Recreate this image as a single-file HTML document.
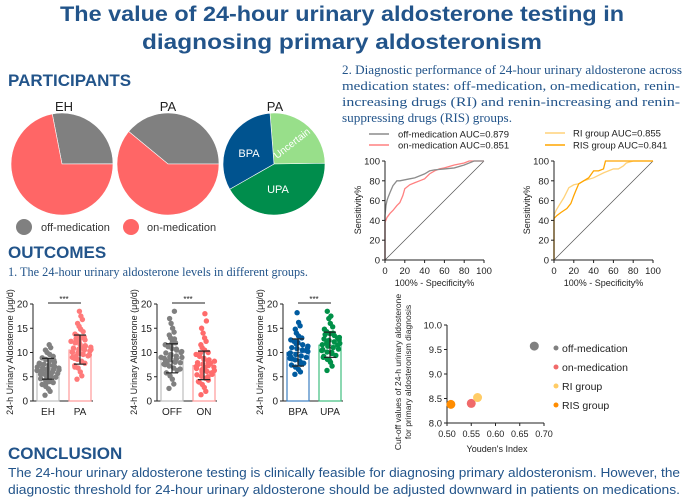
<!DOCTYPE html>
<html><head><meta charset="utf-8"><style>
html,body{margin:0;padding:0;background:#fff;}
svg{display:block;font-family:"Liberation Sans",Arial,sans-serif;}
.serif{font-family:"Liberation Serif",serif;}
</style></head><body>
<svg id="s" width="685" height="497" viewBox="0 0 685 497">
<g fill="#22548a" font-weight="bold" font-size="21" text-anchor="middle">
<text x="342" y="21" textLength="564" lengthAdjust="spacingAndGlyphs">The value of 24-hour urinary aldosterone testing in</text>
<text x="342" y="49" textLength="400" lengthAdjust="spacingAndGlyphs">diagnosing primary aldosteronism</text>
</g>
<text x="8" y="86" fill="#22548a" font-weight="bold" font-size="17">PARTICIPANTS</text>
<g font-size="13" text-anchor="middle" fill="#222">
<text x="64" y="111">EH</text><text x="168" y="111">PA</text><text x="275" y="111">PA</text>
</g>
<g id="pies"></g>
<g font-size="11" fill="#333">
<circle cx="24" cy="227" r="8" fill="#808080"/><text x="41" y="231">off-medication</text>
<circle cx="131" cy="227" r="8" fill="#ff6666"/><text x="147" y="231">on-medication</text>
</g>
<g class="serif" fill="#22548a" font-size="12.3">
<text x="342" y="74" textLength="340" lengthAdjust="spacingAndGlyphs">2. Diagnostic performance of 24-hour urinary aldosterone across</text>
<text x="342" y="90" textLength="338" lengthAdjust="spacingAndGlyphs">medication states: off-medication, on-medication, renin-</text>
<text x="342" y="106" textLength="338" lengthAdjust="spacingAndGlyphs">increasing drugs (RI) and renin-increasing and renin-</text>
<text x="342" y="122" textLength="170" lengthAdjust="spacingAndGlyphs">suppressing drugs (RIS) groups.</text>
</g>
<text x="8" y="258" fill="#22548a" font-weight="bold" font-size="17">OUTCOMES</text>
<text class="serif" x="8" y="276" fill="#22548a" font-size="13" textLength="300" lengthAdjust="spacingAndGlyphs">1. The 24-hour urinary aldosterone levels in different groups.</text>
<g id="dots"></g>
<g id="roc"></g>
<g id="youden"></g>
<text x="8" y="459" fill="#22548a" font-weight="bold" font-size="17">CONCLUSION</text>
<g fill="#22548a" font-size="13">
<text x="8" y="477" textLength="672" lengthAdjust="spacingAndGlyphs">The 24-hour urinary aldosterone testing is clinically feasible for diagnosing primary aldosteronism. However, the</text>
<text x="8" y="494" textLength="672" lengthAdjust="spacingAndGlyphs">diagnostic threshold for 24-hour urinary aldosterone should be adjusted downward in patients on medications.</text>
</g>
</svg>
<script>
const NS="http://www.w3.org/2000/svg";
function mk(p,t,a,txt){const e=document.createElementNS(NS,t);for(const k in a)e.setAttribute(k,a[k]);if(txt!==undefined)e.textContent=txt;p.appendChild(e);return e;}

// ---- Pie data (percent shares) ----
const ehShares=[28,72];          // off, on
const paShares=[39,61];          // off, on
const subShares=[26,42,32];      // uncertain, UPA, BPA
const pieStart1=-11, pieStart3=-4.5;

// ---- Dot plot data ----
const dotGroups=["EH","PA","OFF","ON","BPA","UPA"];
const dotMeans=[6.3,10.5,8.8,7.3,10.0,11.5];
const dotSdLo=[4.5,7.6,5.8,4.4,7.2,9.0];
const dotSdHi=[8.8,13.6,11.8,10.3,12.8,14.2];
const dotVals=[
[1.2,2.0,2.5,3.0,3.4,3.8,4.0,4.3,4.6,4.9,5.1,5.3,5.5,5.7,5.9,6.0,6.2,6.4,6.5,6.7,6.9,7.0,7.2,7.4,7.6,7.8,8.0,8.3,8.6,8.9,9.2,9.6,10.0,10.5,11.0,11.6,5.0,6.1,6.8,7.3,4.7,5.6,6.3,7.1,5.8,6.6,7.7,8.4,4.2,3.6],
[4.5,5.2,6.0,6.8,7.3,7.8,8.2,8.6,9.0,9.3,9.6,9.9,10.1,10.3,10.5,10.7,10.9,11.1,11.4,11.7,12.0,12.3,12.6,13.0,13.4,13.8,14.3,14.8,15.4,16.0,16.8,17.5,18.5,10.0,9.5,11.0,12.2,8.8,10.6,11.3,9.8,12.8,7.0,13.2,10.9,9.2],
[2.6,3.5,4.5,5.2,5.8,6.3,6.8,7.2,7.6,7.9,8.2,8.5,8.8,9.0,9.3,9.6,9.9,10.2,10.5,10.8,11.2,11.6,12.0,12.5,13.0,13.6,14.2,15.0,16.0,17.0,18.5,8.0,9.1,7.5,10.0,8.7,9.4,8.3,6.6,10.7,11.9,7.8,9.0,12.8],
[1.3,2.0,2.8,3.4,3.9,4.3,4.7,5.1,5.4,5.8,6.1,6.4,6.7,7.0,7.3,7.6,7.9,8.2,8.5,8.8,9.2,9.6,10.0,10.5,11.0,11.6,12.3,13.0,14.0,15.0,16.5,18.0,6.0,7.1,5.5,8.0,6.6,7.4,6.3,5.0,8.6,9.9,4.0,7.8,6.9],
[5.5,6.0,6.5,7.0,7.4,7.8,8.2,8.5,8.8,9.0,9.3,9.6,9.9,10.2,10.5,10.8,11.0,11.3,11.6,12.0,12.3,12.6,13.0,13.4,14.0,14.8,15.5,16.2,18.2,9.7,10.4,8.0,11.8,9.1,10.9,7.6,12.2,8.7],
[6.3,7.2,8.0,8.6,9.0,9.4,9.8,10.1,10.4,10.7,11.0,11.3,11.6,11.9,12.2,12.5,12.8,13.1,13.5,13.9,14.3,14.8,15.3,16.0,17.0,18.5,11.5,10.0,12.0,9.2,13.0,17.5,11.8,10.6,12.6,14.0,8.4,13.7]
];
const dotColors=["#808080","#ff7a7a","#808080","#ff6b6b","#005ba0","#009048"];
const dotBarColors=["#bdbdbd","#ff9999","#bdbdbd","#ff9999","#3d7fc0","#3fbf7f"];
const dotTicks=[0,5,10,15,20];

// ---- ROC data ----
const offFpr=[0,0,1,2,3,5,8,12,15,20,25,30,35,40,45,50,60,70,80,90,100];
const offTpr=[0,45,55,60,63,68,75,80,80,81,82,83,85,87,90,91,92,93,96,100,100];
const onFpr=[0,0,2,5,8,12,15,18,20,25,30,35,40,45,50,55,60,70,80,85,100];
const onTpr=[0,38,43,47,50,55,58,65,72,76,78,80,82,87,90,92,93,96,98,100,100];
const riFpr=[0,0,2,5,10,15,20,25,30,40,50,55,60,65,70,73,80,100];
const riTpr=[0,45,50,55,63,73,76,77,80,83,88,90,92,92,95,98,100,100];
const risFpr=[0,0,3,7,10,13,17,20,22,25,30,35,40,45,50,52,100];
const risTpr=[0,42,45,48,50,52,57,65,70,77,80,83,90,90,92,100,100];
const rocTicks=[0,20,40,60,80,100];

// ---- Youden data ----
const ydNames=["off-medication","on-medication","RI group","RIS group"];
const ydX=[0.68,0.55,0.563,0.508];
const ydY=[9.57,8.40,8.52,8.38];
const ydColors=["#808080","#f06a6a","#ffcc66","#ff8c00"];
const ydXTicks=[0.50,0.55,0.60,0.65,0.70];
const ydYTicks=[8.0,8.5,9.0,9.5,10.0];

// Pies
const pies=document.getElementById('pies');
function arc(g,cx,cy,r,a0,a1,fill,name){
  const rad=a=>(a-90)*Math.PI/180;
  const x0=cx+r*Math.cos(rad(a0)),y0=cy+r*Math.sin(rad(a0)),x1=cx+r*Math.cos(rad(a1)),y1=cy+r*Math.sin(rad(a1));
  const p=mk(g,'path',{d:`M${cx},${cy}L${x0},${y0}A${r},${r} 0 ${a1-a0>180?1:0} 1 ${x1},${y1}Z`,fill:fill,stroke:'#fff','stroke-width':0.6});
  
  
}
function pie2(cx,shares,start,nm){
  const a1=start+shares[0]*3.6;
  arc(pies,cx,164,51,start,a1,'#808080',nm+'-off-slice');
  arc(pies,cx,164,51,a1,start+360,'#ff6666',nm+'-on-slice');
}
pie2(62,ehShares,pieStart1,'eh');
pie2(168,paShares,90-paShares[0]*3.6,'pa');
{let a=pieStart3;const cols=['#98df8a','#008d4c','#00538f'],nms=['uncertain-slice','upa-slice','bpa-slice'];
 subShares.forEach((s,i)=>{arc(pies,274,164,51,a,a+s*3.6,cols[i],nms[i]);a+=s*3.6;});}
mk(pies,'text',{x:249,y:157,fill:'#fff','font-size':11,'text-anchor':'middle'},'BPA');
mk(pies,'text',{x:278,y:193,fill:'#fff','font-size':11,'text-anchor':'middle'},'UPA');
mk(pies,'text',{x:294,y:146,fill:'#fff','font-size':10,'text-anchor':'middle',transform:'rotate(-38 294 146)'},'Uncertain');

// Dot plots
const dots=document.getElementById('dots');
const axX=[33,157,283];
const dy=v=>401-v*4.85;
for(let p=0;p<3;p++){
  const g=mk(dots,'g',{});
  
  
  const ax=axX[p];
  mk(g,'line',{x1:ax,y1:dy(20),x2:ax,y2:401,stroke:'#222','stroke-width':1});
  mk(g,'line',{x1:ax,y1:401,x2:ax+60,y2:401,stroke:'#222','stroke-width':1});
  dotTicks.forEach(t=>{mk(g,'line',{x1:ax-3,y1:dy(t),x2:ax,y2:dy(t),stroke:'#222'});
    mk(g,'text',{x:ax-5,y:dy(t)+3.5,'font-size':10,'text-anchor':'end',fill:'#222'},t);});
  mk(g,'text',{x:0,y:0,'font-size':9,fill:'#222','text-anchor':'middle',transform:`translate(${ax-20},352) rotate(-90)`},'24-h Urinary Aldosterone  (μg/d)');
  mk(g,'line',{x1:ax+15,y1:303,x2:ax+48,y2:303,stroke:'#222'});
  mk(g,'text',{x:ax+31,y:302,'font-size':8,'text-anchor':'middle',fill:'#222'},'***');
  for(let k=0;k<2;k++){
    const gi=p*2+k,cx=ax+15+k*32;
    const bar=mk(g,'rect',{x:cx-11,y:dy(dotMeans[gi]),width:22,height:401-dy(dotMeans[gi]),fill:'none',stroke:dotBarColors[gi],'stroke-width':1.2});
    
    
    dotVals[gi].forEach((v,i)=>{
      const w=Math.max(3,11*Math.exp(-Math.pow((v-dotMeans[gi])/4,2)));
      const jx=(((i*37)%21)-10)/10*w;
      const c=mk(g,'circle',{cx:cx+jx,cy:dy(v),r:2.7,fill:dotColors[gi]});
      
      
    });
    mk(g,'line',{x1:cx,y1:dy(dotSdLo[gi]),x2:cx,y2:dy(dotSdHi[gi]),stroke:'#222','stroke-width':1.2});
    [dotSdLo[gi],dotSdHi[gi]].forEach(v=>mk(g,'line',{x1:cx-6,y1:dy(v),x2:cx+6,y2:dy(v),stroke:'#222','stroke-width':1.2}));
    mk(g,'text',{x:cx,y:415,'font-size':10,'text-anchor':'middle',fill:'#222'},dotGroups[gi]);
  }
}

// ROC
const roc=document.getElementById('roc');
function rocChart(x0,series,nm){
  const g=mk(roc,'g',{});
  
  
  const sx=v=>x0+v*0.99,sy=v=>260-v*0.99;
  mk(g,'line',{x1:sx(0),y1:sy(0),x2:sx(100),y2:sy(100),stroke:'#555','stroke-width':0.7});
  series.forEach(s=>{
    const pl=mk(g,'polyline',{points:s.f.map((f,i)=>sx(f)+','+sy(s.t[i])).join(' '),fill:'none',stroke:s.c,'stroke-width':1.3});
    
    
  });
  mk(g,'line',{x1:x0,y1:sy(100),x2:x0,y2:260,stroke:'#222'});
  mk(g,'line',{x1:x0,y1:260,x2:sx(100),y2:260,stroke:'#222'});
  rocTicks.forEach(t=>{
    mk(g,'line',{x1:x0-3,y1:sy(t),x2:x0,y2:sy(t),stroke:'#222'});
    mk(g,'text',{x:x0-5,y:sy(t)+3.5,'font-size':9.5,'text-anchor':'end',fill:'#222'},t);
    mk(g,'line',{x1:sx(t),y1:260,x2:sx(t),y2:263,stroke:'#222'});
    mk(g,'text',{x:sx(t),y:274,'font-size':9.5,'text-anchor':'middle',fill:'#222'},t);
  });
  mk(g,'text',{x:sx(50),y:286,'font-size':9,'text-anchor':'middle',fill:'#222'},'100% - Specificity%');
  mk(g,'text',{x:0,y:0,'font-size':9,'text-anchor':'middle',fill:'#222',transform:`translate(${x0-24},210) rotate(-90)`},'Sensitivity%');
}
rocChart(385,[{f:onFpr,t:onTpr,c:'#ff8080',n:'on-medication'},{f:offFpr,t:offTpr,c:'#8c8c8c',n:'off-medication'}],'roc-left');
rocChart(554,[{f:riFpr,t:riTpr,c:'#ffd27a',n:'ri-group'},{f:risFpr,t:risTpr,c:'#ffa500',n:'ris-group'}],'roc-right');
const lg=mk(roc,'g',{'font-size':9.5,fill:'#222'});


[[369,134,'#8c8c8c','off-medication AUC=0.879',398],[369,145,'#ff8080','on-medication AUC=0.851',398],[545,133,'#ffd27a','RI group AUC=0.855',573],[545,145,'#ffa500','RIS group AUC=0.841',573]].forEach(l=>{
  mk(lg,'line',{x1:l[0],y1:l[1],x2:l[0]+20,y2:l[1],stroke:l[2],'stroke-width':1.5});
  mk(lg,'text',{x:l[4],y:l[1]+3.5},l[3]);
});

// Youden
const yd=document.getElementById('youden');
const yx=v=>447+(v-0.5)/0.2*97, yy=v=>423-(v-8)/2*98;
mk(yd,'line',{x1:447,y1:yy(10),x2:447,y2:423,stroke:'#222'});
mk(yd,'line',{x1:447,y1:423,x2:yx(0.7),y2:423,stroke:'#222'});
ydYTicks.forEach(t=>{mk(yd,'line',{x1:444,y1:yy(t),x2:447,y2:yy(t),stroke:'#222'});
  mk(yd,'text',{x:442,y:yy(t)+3.5,'font-size':9.5,'text-anchor':'end',fill:'#222'},t.toFixed(1));});
ydXTicks.forEach(t=>{mk(yd,'line',{x1:yx(t),y1:423,x2:yx(t),y2:426,stroke:'#222'});
  mk(yd,'text',{x:yx(t),y:437,'font-size':9,'text-anchor':'middle',fill:'#222'},t.toFixed(2));});
mk(yd,'text',{x:497,y:452,'font-size':9,'text-anchor':'middle',fill:'#222'},"Youden's Index");
mk(yd,'text',{x:0,y:0,'font-size':8.5,'text-anchor':'middle',fill:'#222',transform:'translate(401,372) rotate(-90)'},'Cut-off values of 24-h urinary aldosterone');
mk(yd,'text',{x:0,y:0,'font-size':8.5,'text-anchor':'middle',fill:'#222',transform:'translate(411,372) rotate(-90)'},'for primary aldosteronism diagnosis');
ydX.forEach((v,i)=>{
  const c=mk(yd,'circle',{cx:yx(v),cy:yy(ydY[i]),r:4.5,fill:ydColors[i]});
  
  
  mk(yd,'circle',{cx:556,cy:348+i*19,r:2.5,fill:ydColors[i]});
  mk(yd,'text',{x:562,y:352+i*19,'font-size':10.5,fill:'#222'},ydNames[i]);
});
</script>
</body></html>
